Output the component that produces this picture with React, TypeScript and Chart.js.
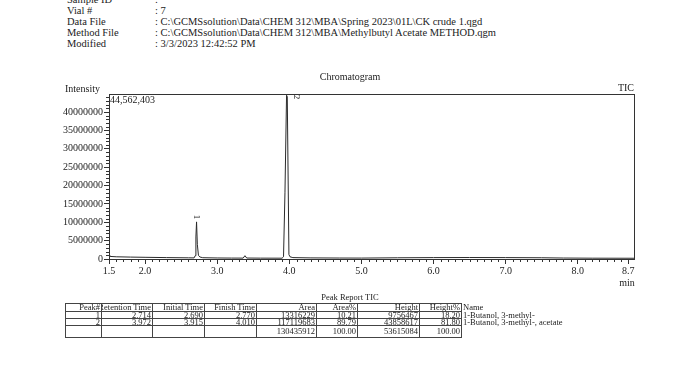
import React, { useEffect, useRef } from "react";
import { Chart, registerables } from "chart.js";

Chart.register(...registerables);

// ---------- data ----------
const headerLabels = ["Sample ID", "Vial #", "Data File", "Method File", "Modified"];
const headerValues = [
  ":",
  ": 7",
  ": C:\\GCMSsolution\\Data\\CHEM 312\\MBA\\Spring 2023\\01L\\CK crude 1.qgd",
  ": C:\\GCMSsolution\\Data\\CHEM 312\\MBA\\Methylbutyl Acetate METHOD.qgm",
  ": 3/3/2023 12:42:52 PM",
];

const timeMin = [
  1.5, 1.505, 1.515, 1.6, 1.8, 2.0, 2.3, 2.6, 2.68, 2.695, 2.705, 2.714, 2.725, 2.74, 2.76, 2.8,
  3.0, 3.2, 3.36, 3.385, 3.41, 3.6, 3.9, 3.92, 3.94, 3.962, 3.972, 3.995, 4.01, 4.05,
  4.3, 4.7, 5.0, 5.5, 6.0, 6.5, 7.0, 7.5, 7.8, 8.2, 8.78,
];
const intensity = [
  200000, 1300000, 700000, 600000, 520000, 460000, 380000, 320000, 300000, 900000, 6000000,
  10100000, 4000000, 1000000, 550000, 350000, 280000, 250000, 240000, 900000, 260000, 230000,
  220000, 600000, 18000000, 44562403, 44200000, 1200000, 600000, 380000, 300000,
  260000, 250000, 330000, 380000, 400000, 380000, 340000, 260000, 220000, 200000,
];

const xTickValues = [1.5, 2.0, 3.0, 4.0, 5.0, 6.0, 7.0, 8.0, 8.7];
const yTickValues = [0, 5000000, 10000000, 15000000, 20000000, 25000000, 30000000, 35000000, 40000000];
const X_MIN = 1.5;
const X_MAX = 8.78;
const Y_MAX = 44900000;
const MAX_INTENSITY_LABEL = "44,562,403";

const peakLabels = ["1", "2"];
const peakTimes = [2.714, 3.972];

const tableHeaders = ["Peak#", "Retention Time", "Initial Time", "Finish Time", "Area", "Area%", "Height", "Height%", "Name"];
const peakNo = ["1", "2"];
const retTime = ["2.714", "3.972"];
const initTime = ["2.690", "3.915"];
const finishTime = ["2.770", "4.010"];
const areaVals = ["13316229", "117119683"];
const areaPct = ["10.21", "89.79"];
const heightVals = ["9756467", "43858617"];
const heightPct = ["18.20", "81.80"];
const compoundNames = ["1-Butanol, 3-methyl-", "1-Butanol, 3-methyl-, acetate"];
const totalsRow = ["", "", "", "", "130435912", "100.00", "53615084", "100.00", ""];

// ---------- layout ----------
const colEdges = [65, 101, 152, 204, 256, 316, 357, 419, 461, 580];
const rowEdges = [303, 311, 318, 325, 337];
const SERIF = "'Liberation Serif', 'Times New Roman', serif";
const INK = "#222";

const framePlugin = {
  id: "frameAndMarks",
  afterDraw(chart: any) {
    const { ctx, chartArea, scales } = chart;
    const xs = scales.x;
    const ys = scales.y;
    ctx.save();
    ctx.strokeStyle = "#333";
    ctx.lineWidth = 1;
    ctx.strokeRect(Math.round(chartArea.left) + 0.5, Math.round(chartArea.top) + 0.5,
      Math.round(chartArea.right - chartArea.left), Math.round(chartArea.bottom - chartArea.top));
    ctx.beginPath();
    for (let i = 15; i <= 87; i++) {
      if (i % 10 === 0) continue;
      const px = Math.round(xs.getPixelForValue(i / 10)) + 0.5;
      ctx.moveTo(px, chartArea.bottom);
      ctx.lineTo(px, chartArea.bottom + 3);
    }
    for (let i = 1; i <= 44; i++) {
      if (i % 5 === 0) continue;
      const py = Math.round(ys.getPixelForValue(i * 1000000)) + 0.5;
      ctx.moveTo(chartArea.left, py);
      ctx.lineTo(chartArea.left - 3, py);
    }
    ctx.stroke();
    ctx.fillStyle = INK;
    ctx.font = "9px " + SERIF;
    ctx.textAlign = "center";
    ctx.textBaseline = "middle";
    const pos = [
      { x: xs.getPixelForValue(peakTimes[0]), y: ys.getPixelForValue(11400000) },
      { x: xs.getPixelForValue(peakTimes[1]) + 9, y: chartArea.top + 3 },
    ];
    peakLabels.forEach((t, i) => {
      ctx.save();
      ctx.translate(pos[i].x, pos[i].y);
      ctx.rotate(Math.PI / 2);
      ctx.fillText(t, 0, 0);
      ctx.restore();
    });
    ctx.restore();
  },
};

function Cell({ x0, x1, y0, y1, text, align }: any) {
  return (
    <div
      style={{
        position: "absolute",
        left: x0,
        top: y0,
        width: x1 - x0,
        height: y1 - y0,
        display: "flex",
        alignItems: "center",
        justifyContent: align === "left" ? "flex-start" : "flex-end",
        overflow: align === "left" ? "visible" : "hidden",
        whiteSpace: "nowrap",
        fontSize: 8.5,
        lineHeight: "7px",
        paddingRight: align === "left" ? 0 : 1,
        paddingLeft: align === "left" ? 1 : 0,
        boxSizing: "border-box",
      }}
    >
      <span>{text}</span>
    </div>
  );
}

export default function App() {
  const canvasRef = useRef<HTMLCanvasElement | null>(null);

  useEffect(() => {
    const canvas = canvasRef.current;
    if (!canvas) return;
    const points = timeMin.map((t, i) => ({ x: t, y: intensity[i] }));
    const chart = new Chart(canvas, {
      type: "scatter",
      data: {
        datasets: [
          {
            data: points,
            showLine: true,
            borderColor: "#2a2a2a",
            borderWidth: 1,
            pointRadius: 0,
            tension: 0,
          },
        ],
      },
      options: {
        animation: false,
        responsive: false,
        devicePixelRatio: 1,
        layout: { padding: { left: 40, top: 94, right: 66, bottom: 97 } },
        plugins: { legend: { display: false }, tooltip: { enabled: false } },
        scales: {
          x: {
            type: "linear",
            min: X_MIN,
            max: X_MAX,
            afterBuildTicks: (s: any) => {
              s.ticks = xTickValues.map((v) => ({ value: v }));
            },
            afterFit: (s: any) => {
              s.height = 22;
            },
            grid: { display: true, drawOnChartArea: false, drawTicks: true, tickLength: 5, color: "#333" },
            border: { display: true, color: "#333" },
            ticks: {
              autoSkip: false,
              maxRotation: 0,
              padding: 1,
              color: INK,
              font: { family: SERIF, size: 10 },
              callback: (v: any) => Number(v).toFixed(1),
            },
          },
          y: {
            type: "linear",
            min: 0,
            max: Y_MAX,
            afterBuildTicks: (s: any) => {
              s.ticks = yTickValues.map((v) => ({ value: v }));
            },
            afterFit: (s: any) => {
              s.width = 69;
            },
            grid: { display: true, drawOnChartArea: false, drawTicks: true, tickLength: 5, color: "#333" },
            border: { display: true, color: "#333" },
            ticks: {
              autoSkip: false,
              padding: 1,
              color: INK,
              font: { family: SERIF, size: 10 },
              callback: (v: any) => String(v),
            },
          },
        },
      },
      plugins: [framePlugin],
    });
    return () => chart.destroy();
  }, []);

  const rows: string[][] = [
    tableHeaders,
    ...peakNo.map((p, i) => [p, retTime[i], initTime[i], finishTime[i], areaVals[i], areaPct[i], heightVals[i], heightPct[i], compoundNames[i]]),
    totalsRow,
  ];

  return (
    <div
      style={{
        position: "absolute",
        left: 0,
        top: 0,
        width: 700,
        height: 378,
        background: "#fff",
        fontFamily: SERIF,
        color: INK,
        overflow: "hidden",
      }}
    >
      {headerLabels.map((l, i) => (
        <div key={"hl" + i} style={{ position: "absolute", left: 67, top: -6 + i * 11, fontSize: 10.5, lineHeight: "12px", whiteSpace: "nowrap" }}>
          {l}
        </div>
      ))}
      {headerValues.map((v, i) => (
        <div key={"hv" + i} style={{ position: "absolute", left: 155, top: -6 + i * 11, fontSize: 10.5, lineHeight: "12px", whiteSpace: "nowrap" }}>
          {v}
        </div>
      ))}
      <canvas ref={canvasRef} width={700} height={378} style={{ position: "absolute", left: 0, top: 0, width: 700, height: 378 }} />
      <div style={{ position: "absolute", left: 300, width: 100, top: 71, textAlign: "center", fontSize: 10, lineHeight: "12px" }}>Chromatogram</div>
      <div style={{ position: "absolute", left: 600, width: 34, top: 82, textAlign: "right", fontSize: 10, lineHeight: "12px" }}>TIC</div>
      <div style={{ position: "absolute", left: 65, top: 83, fontSize: 10, lineHeight: "12px" }}>Intensity</div>
      <div style={{ position: "absolute", left: 110, top: 94, fontSize: 10, lineHeight: "12px" }}>{MAX_INTENSITY_LABEL}</div>
      <div style={{ position: "absolute", left: 612, width: 30, top: 277, textAlign: "center", fontSize: 10, lineHeight: "12px" }}>min</div>
      <div style={{ position: "absolute", left: 300, width: 100, top: 292, textAlign: "center", fontSize: 8.5, lineHeight: "10px" }}>Peak Report TIC</div>
      {rowEdges.map((y, i) => (
        <div key={"hr" + i} style={{ position: "absolute", left: colEdges[0], top: y, width: colEdges[8] - colEdges[0], height: 1, background: "#444" }} />
      ))}
      {colEdges.slice(0, 9).map((x, i) => (
        <div key={"vr" + i} style={{ position: "absolute", left: x, top: rowEdges[0], width: 1, height: rowEdges[4] - rowEdges[0] + 1, background: "#444" }} />
      ))}
      {rows.map((r, ri) =>
        r.map((t, ci) => (
          <Cell
            key={ri + "-" + ci}
            x0={colEdges[ci] + 1}
            x1={colEdges[ci + 1]}
            y0={rowEdges[ri] + 1}
            y1={rowEdges[ri + 1]}
            text={t}
            align={ci === 8 ? "left" : "right"}
          />
        ))
      )}
    </div>
  );
}
